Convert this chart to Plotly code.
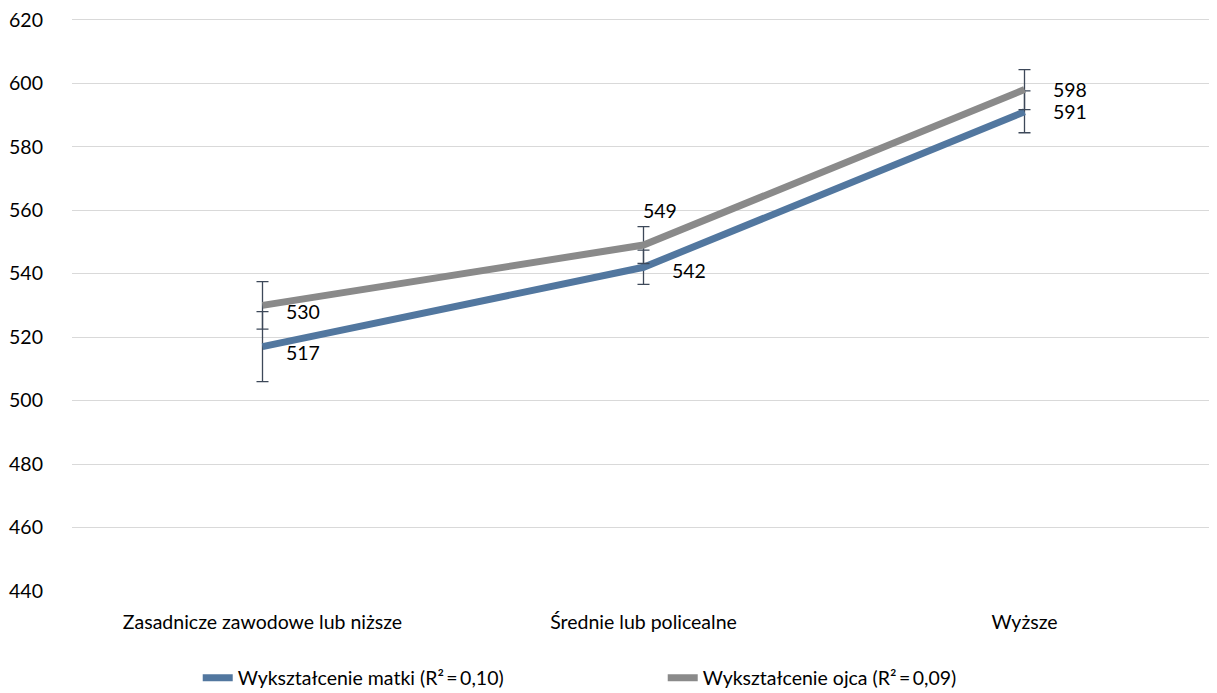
import plotly.graph_objects as go

categories = ["Zasadnicze zawodowe lub niższe", "Średnie lub policealne", "Wyższe"]
matki_values = [517, 542, 591]
ojca_values = [530, 549, 598]
matki_err = [11, 5.4, 6.6]
ojca_err = [7.5, 5.8, 6.3]
series_names = ["Wykształcenie matki (R²\u2009=\u20090,10)", "Wykształcenie ojca (R²\u2009=\u20090,09)"]
y_ticks = list(range(440, 621, 20))

BLUE = "#52779f"
GRAY = "#8a8a8a"
ERR = "#3d4859"
FONT = "Lato"
FS = 19.5

fig = go.Figure()
fig.add_trace(go.Scatter(
    x=categories, y=matki_values, mode="lines", name=series_names[0],
    line=dict(color=BLUE, width=7),
    error_y=dict(type="data", array=matki_err, color=ERR, thickness=1.3, width=6),
))
fig.add_trace(go.Scatter(
    x=categories, y=ojca_values, mode="lines", name=series_names[1],
    line=dict(color=GRAY, width=7),
    error_y=dict(type="data", array=ojca_err, color=ERR, thickness=1.3, width=6),
))

# data labels
label_offsets_m = [(21, -6), (26, -3), (26, 0)]
label_offsets_o = [(21, -6), (-3, 35), (26, 0)]
for i, c in enumerate(categories):
    dx, dy = label_offsets_m[i]
    fig.add_annotation(x=c, y=matki_values[i], text=str(matki_values[i]), showarrow=False,
                       xanchor="left", yanchor="middle", xshift=dx, yshift=dy,
                       font=dict(family=FONT, size=FS, color="#000000"))
    dx, dy = label_offsets_o[i]
    fig.add_annotation(x=c, y=ojca_values[i], text=str(ojca_values[i]), showarrow=False,
                       xanchor="left", yanchor="middle", xshift=dx, yshift=dy,
                       font=dict(family=FONT, size=FS, color="#000000"))

fig.update_layout(
    width=1209, height=685,
    margin=dict(l=64, r=2, t=10, b=102, autoexpand=False),
    plot_bgcolor="white", paper_bgcolor="white",
    font=dict(family=FONT, size=FS, color="#000000"),
    showlegend=True,
    legend=dict(orientation="h", x=0.110, xanchor="left", y=-0.152, yanchor="middle",
                entrywidth=420, entrywidthmode="pixels",
                font=dict(family=FONT, size=FS, color="#000000"), traceorder="normal"),
    xaxis=dict(range=[-0.5, 2.5], showgrid=False, showline=False, zeroline=False,
               ticks="", ticklabelstandoff=17, tickfont=dict(family=FONT, size=FS)),
    yaxis=dict(range=[440, 620.55], tickvals=y_ticks, showgrid=True, gridcolor="#d9d9d9",
               gridwidth=1, zeroline=False, showline=False, ticks="",
               ticklabeloverflow="allow",
               ticklabelstandoff=28, tickfont=dict(family=FONT, size=FS)),
)

fig.write_html("out.html")
